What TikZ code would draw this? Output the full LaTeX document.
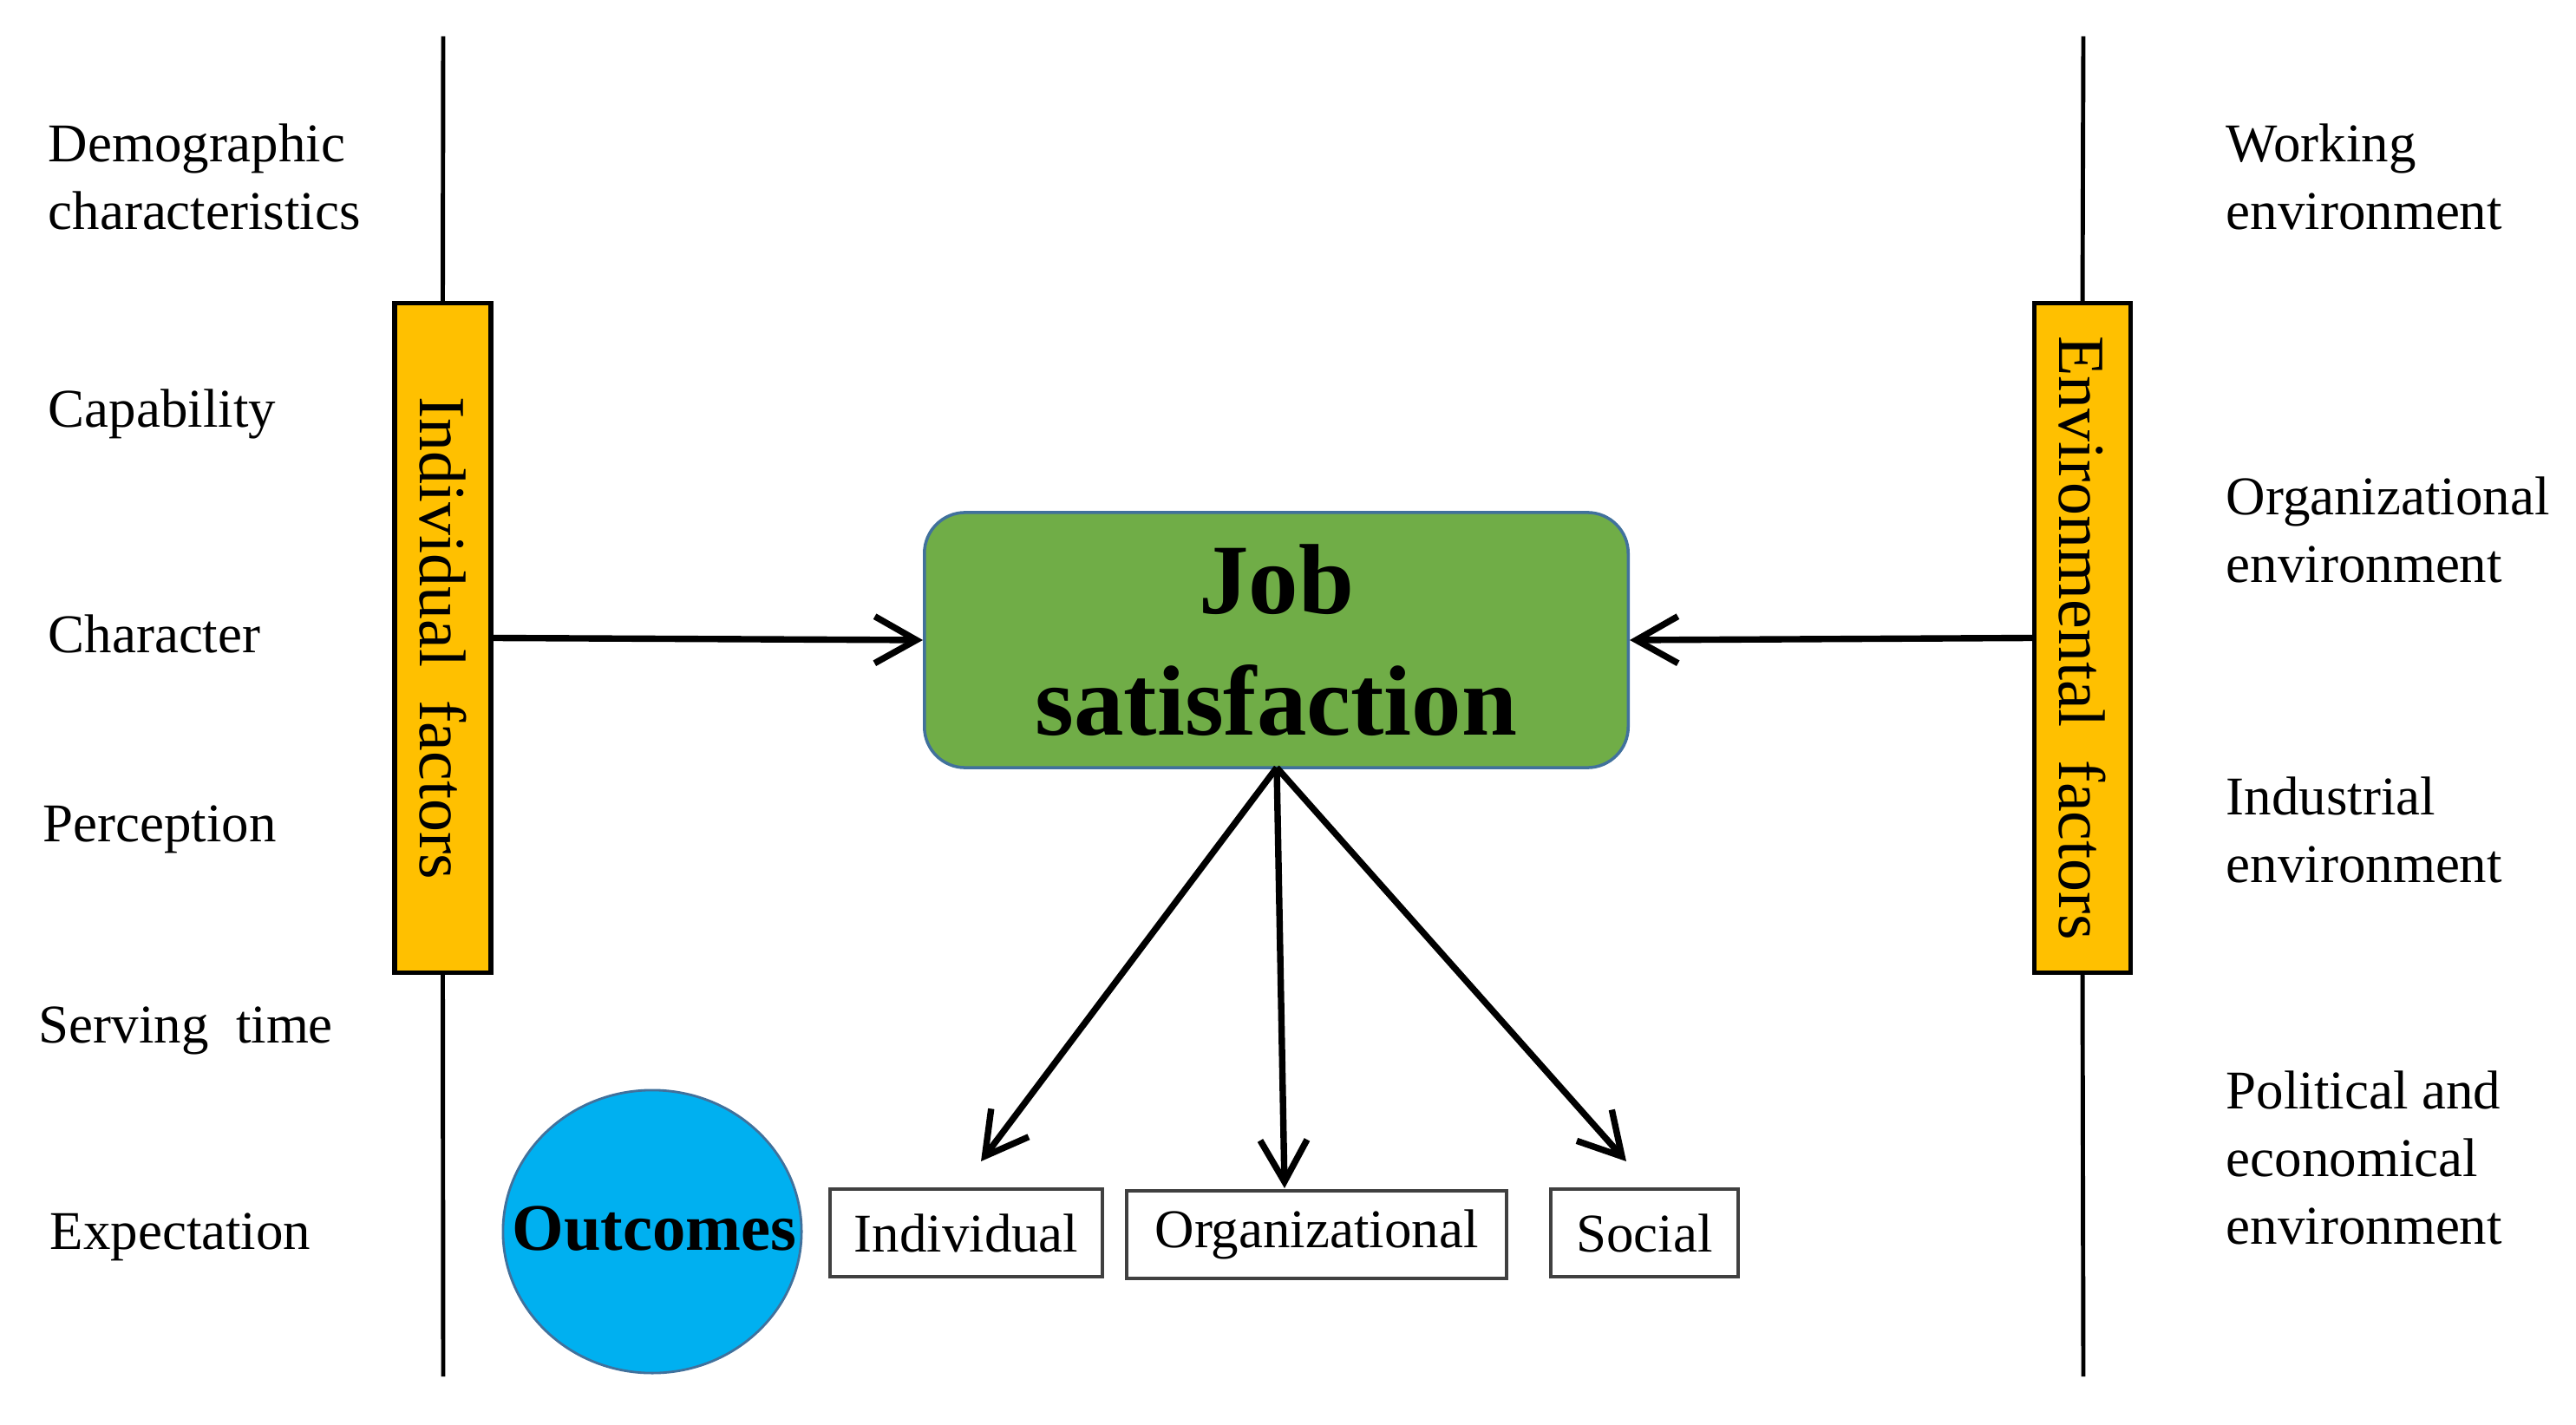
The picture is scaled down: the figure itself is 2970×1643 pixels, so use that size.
\documentclass[tikz,border=0pt]{standalone}
\usepackage{fontspec}
\setmainfont{Liberation Serif}
\usetikzlibrary{arrows.meta,shapes.geometric}
\definecolor{barfill}{HTML}{FFC000}
\definecolor{jsfill}{HTML}{70AD47}
\definecolor{jsdraw}{HTML}{41719C}
\definecolor{outfill}{HTML}{00B0F0}
\definecolor{boxdraw}{HTML}{404040}
\tikzset{
  lbl/.style={anchor=west, inner sep=0pt, align=left, font=\fontsize{17.9}{22.2}\selectfont},
  factorbar/.style={draw=black, line width=1.5pt, fill=barfill, minimum width=1.11cm, minimum height=7.71cm, inner sep=0pt, font=\fontsize{21.6}{26}\selectfont},
  outbox/.style={draw=boxdraw, line width=1.2pt, fill=white, minimum height=1.01cm, inner sep=0pt, font=\fontsize{17.9}{22.2}\selectfont},
  arr/.style={line width=2.1pt, -{Straight Barb[length=4.8mm,width=5.4mm]}},
  axisline/.style={line width=1.4pt}
}
\begin{document}
\begin{tikzpicture}[x=0.01cm,y=-0.01cm]
\useasboundingbox (0,0) rectangle (2970,1643);

% vertical axis lines
\coordinate (ltop) at (511,42);
\coordinate (lbot) at (511,1587);
\coordinate (rtop) at (2402,42);
\coordinate (rbot) at (2402,1587);

\node[factorbar] (ib) at (510.5,735.5) {\rotatebox{-90}{Individual \ factors}};
\node[factorbar] (eb) at (2401,735.5) {\rotatebox{-90}{Environmental \ factors}};

\draw[axisline] (ltop) -- (ib.north);
\draw[axisline] (ib.south) -- (lbot);
\draw[axisline] (rtop) -- (eb.north);
\draw[axisline] (eb.south) -- (rbot);

% central box
\node[draw=jsdraw, line width=1pt, fill=jsfill, rounded corners=0.47cm,
      minimum width=8.11cm, minimum height=2.94cm, align=center,
      font=\fontsize{32.7}{39.8}\selectfont\bfseries] (js) at (1471.5,738) {Job\\satisfaction};

\draw[arr] (ib.east) -- (js.west);
\draw[arr] (eb.west) -- (js.east);

% outcomes
\node[ellipse, draw=jsdraw, line width=0.8pt, fill=outfill, minimum width=3.44cm, minimum height=3.26cm, inner sep=0pt,
      font=\fontsize{21.8}{26}\selectfont\bfseries] (out) at (752,1420) {\makebox[0pt]{\hspace{0.05cm}\raisebox{0.08cm}{Outcomes}}};

\node[outbox, minimum width=3.14cm] (ind) at (1114,1421.5) {Individual};
\node[outbox, minimum width=4.38cm] (org) at (1518,1423.5) {\raisebox{-0.05cm}{Organizational}};
\node[outbox, minimum width=2.16cm] (soc) at (1896,1421.5) {Social};

\coordinate (jsb) at (1472,885);
\coordinate (tind) at (1131,1339);
\coordinate (torg) at (1481,1370);
\coordinate (tsoc) at (1875,1339);
\draw[arr] (jsb) -- (tind);
\draw[arr] (jsb) -- (torg);
\draw[arr] (jsb) -- (tsoc);

% left labels
\node[lbl] (l1) at (55,204) {Demographic\\characteristics};
\node[lbl] (l2) at (55,477) {Capability};
\node[lbl] (l3) at (55,731) {Character};
\node[lbl] (l4) at (49,956) {Perception};
\node[lbl] (l5) at (44,1188) {Serving\ \ time};
\node[lbl] (l6) at (57,1426) {Expectation};

% right labels
\node[lbl] (r1) at (2566,204) {Working\\environment};
\node[lbl] (r2) at (2566,611) {Organizational\\environment};
\node[lbl] (r3) at (2566,957) {Industrial\\environment};
\node[lbl] (r4) at (2566,1335) {Political and\\economical\\environment};
\end{tikzpicture}
\end{document}
